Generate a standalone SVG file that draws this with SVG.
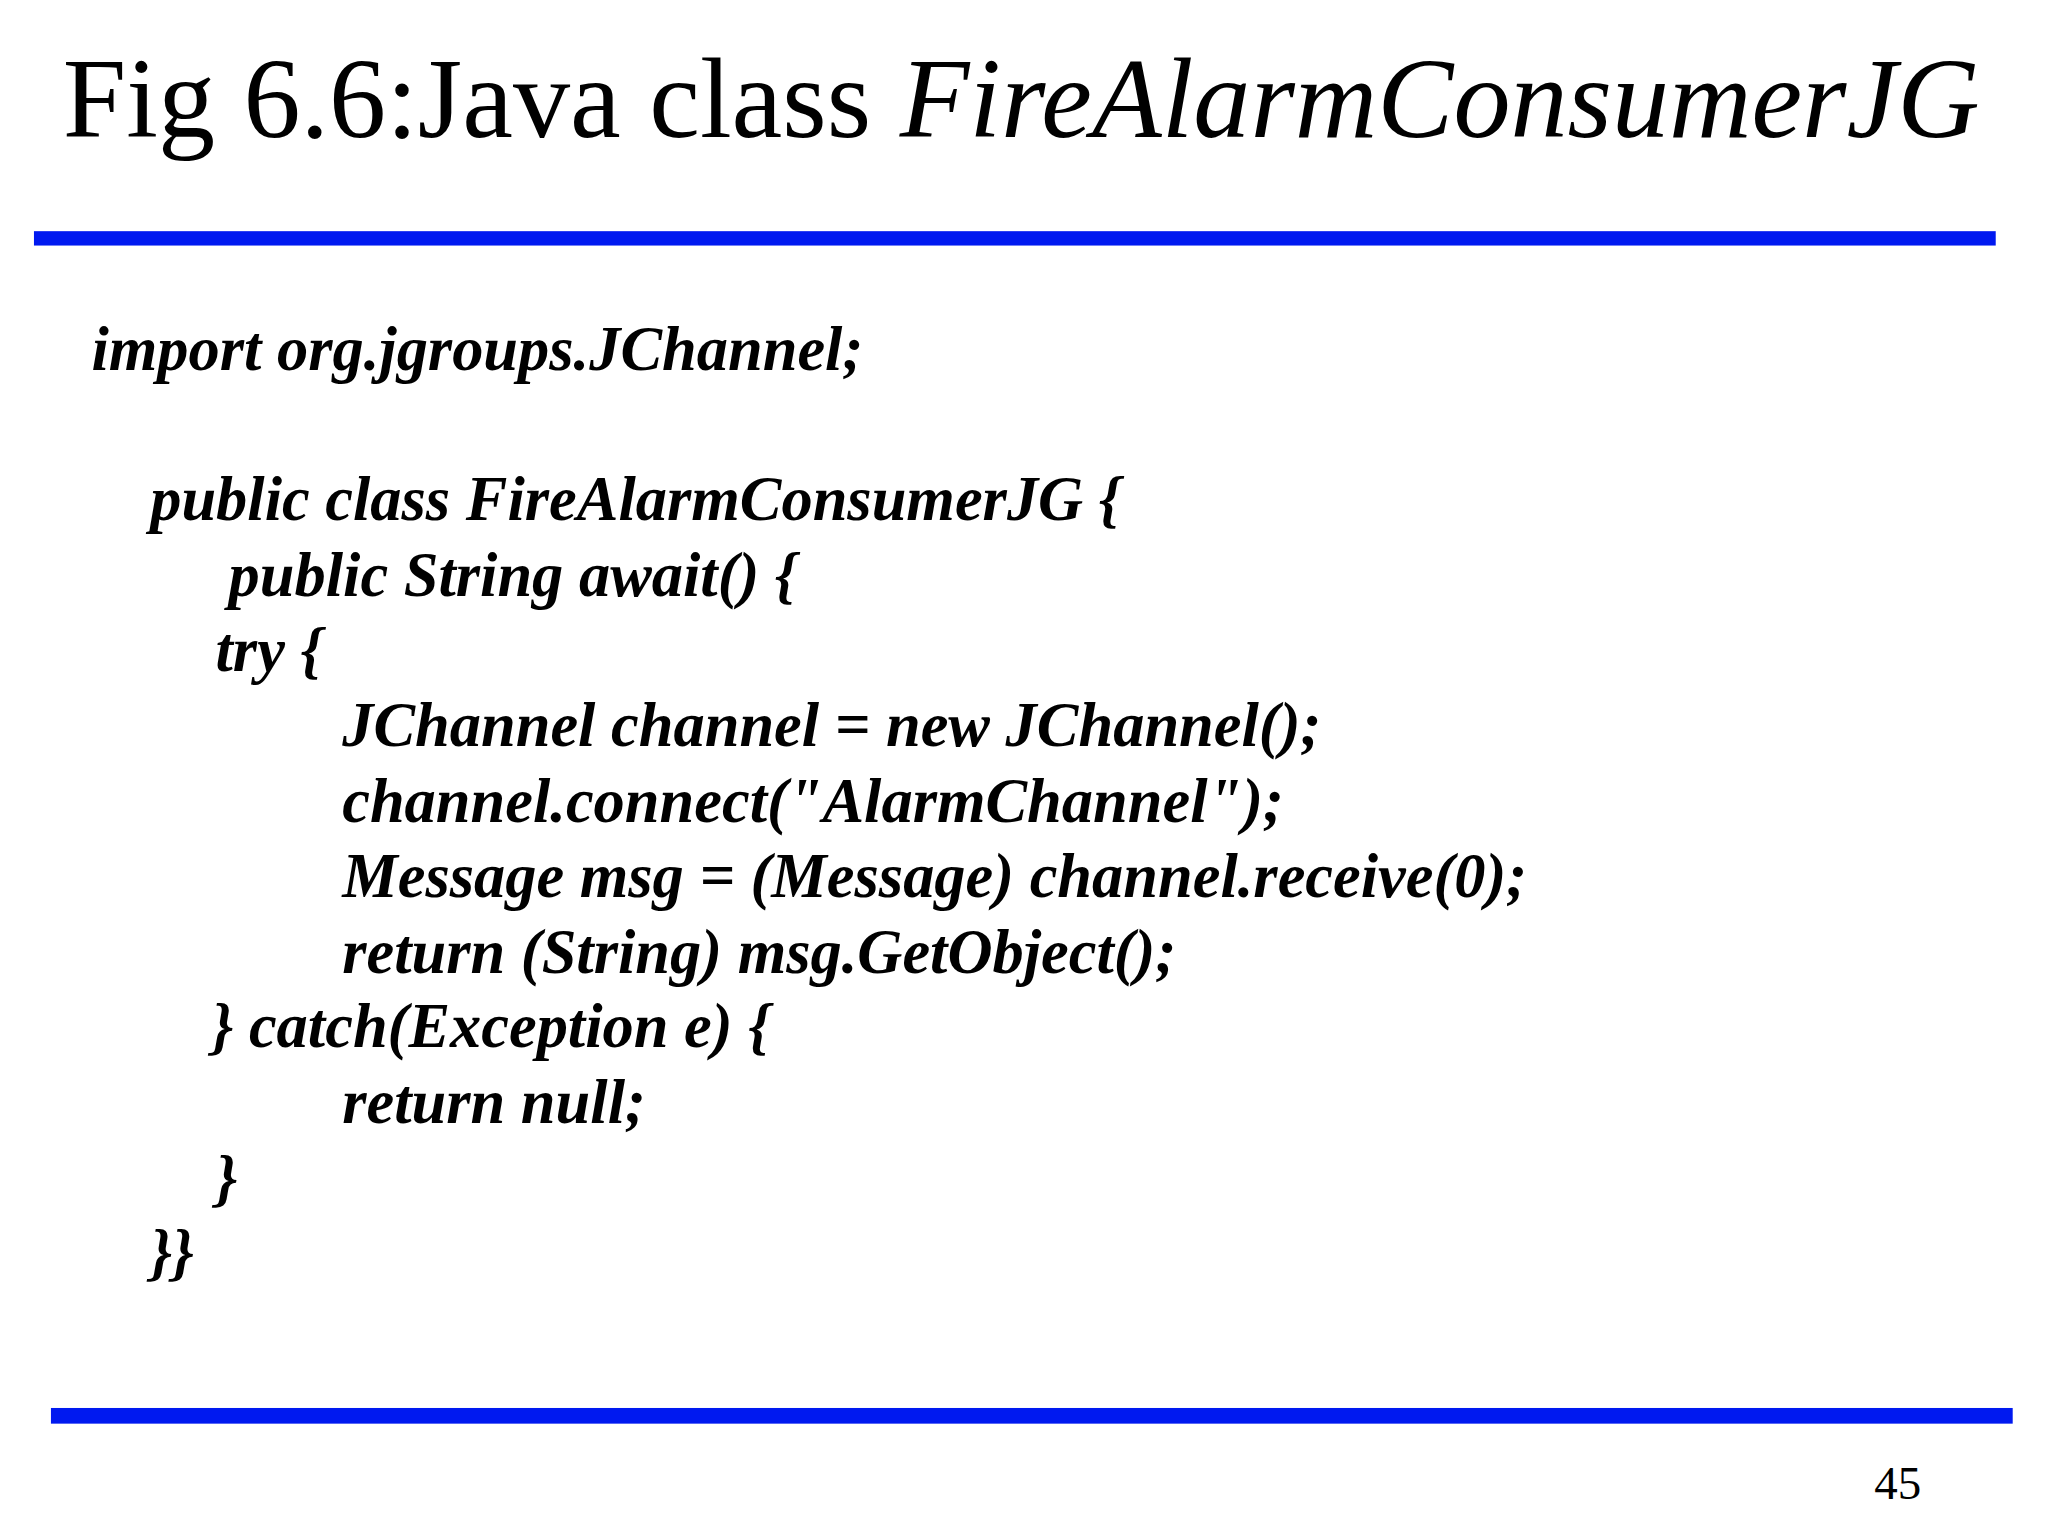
<svg xmlns="http://www.w3.org/2000/svg" width="2048" height="1536" viewBox="0 0 2048 1536">
<style>
.t{font-family:"Liberation Serif","Times New Roman",serif;fill:#000}
.c{font-family:"Liberation Serif","Times New Roman",serif;font-weight:bold;font-style:italic;font-size:47.8px;fill:#000}
</style>
<rect width="2048" height="1536" fill="#fff"/>
<g transform="scale(1.3061)">
<g id="title"><text class="t" x="48" y="105" font-size="87.4">Fig 6.6:Java class <tspan font-style="italic">FireAlarmConsumerJG</tspan></text></g>
<rect x="26" y="177" width="1502" height="11" fill="#0019f0"/>
<rect x="39" y="1078" width="1502" height="12" fill="#0019f0"/>
<g id="code" xml:space="preserve">
<text class="c" x="70" y="283">import org.jgroups.JChannel;</text>
<text class="c" x="115" y="398">public class FireAlarmConsumerJG {</text>
<text class="c" x="175" y="456">public String await() {</text>
<text class="c" x="165" y="514">try {</text>
<text class="c" x="262" y="571">JChannel channel = new JChannel();</text>
<text class="c" x="262" y="629">channel.connect("AlarmChannel");</text>
<text class="c" x="262" y="687">Message msg = (Message) channel.receive(0);</text>
<text class="c" x="262" y="745">return (String) msg.GetObject();</text>
<text class="c" x="162" y="802">} catch(Exception e) {</text>
<text class="c" x="262" y="860">return null;</text>
<text class="c" x="165" y="918">}</text>
<text class="c" x="115" y="975">}}</text>
</g>
<g id="page"><text class="t" x="1435" y="1148" font-size="36">45</text></g>
</g>
</svg>
